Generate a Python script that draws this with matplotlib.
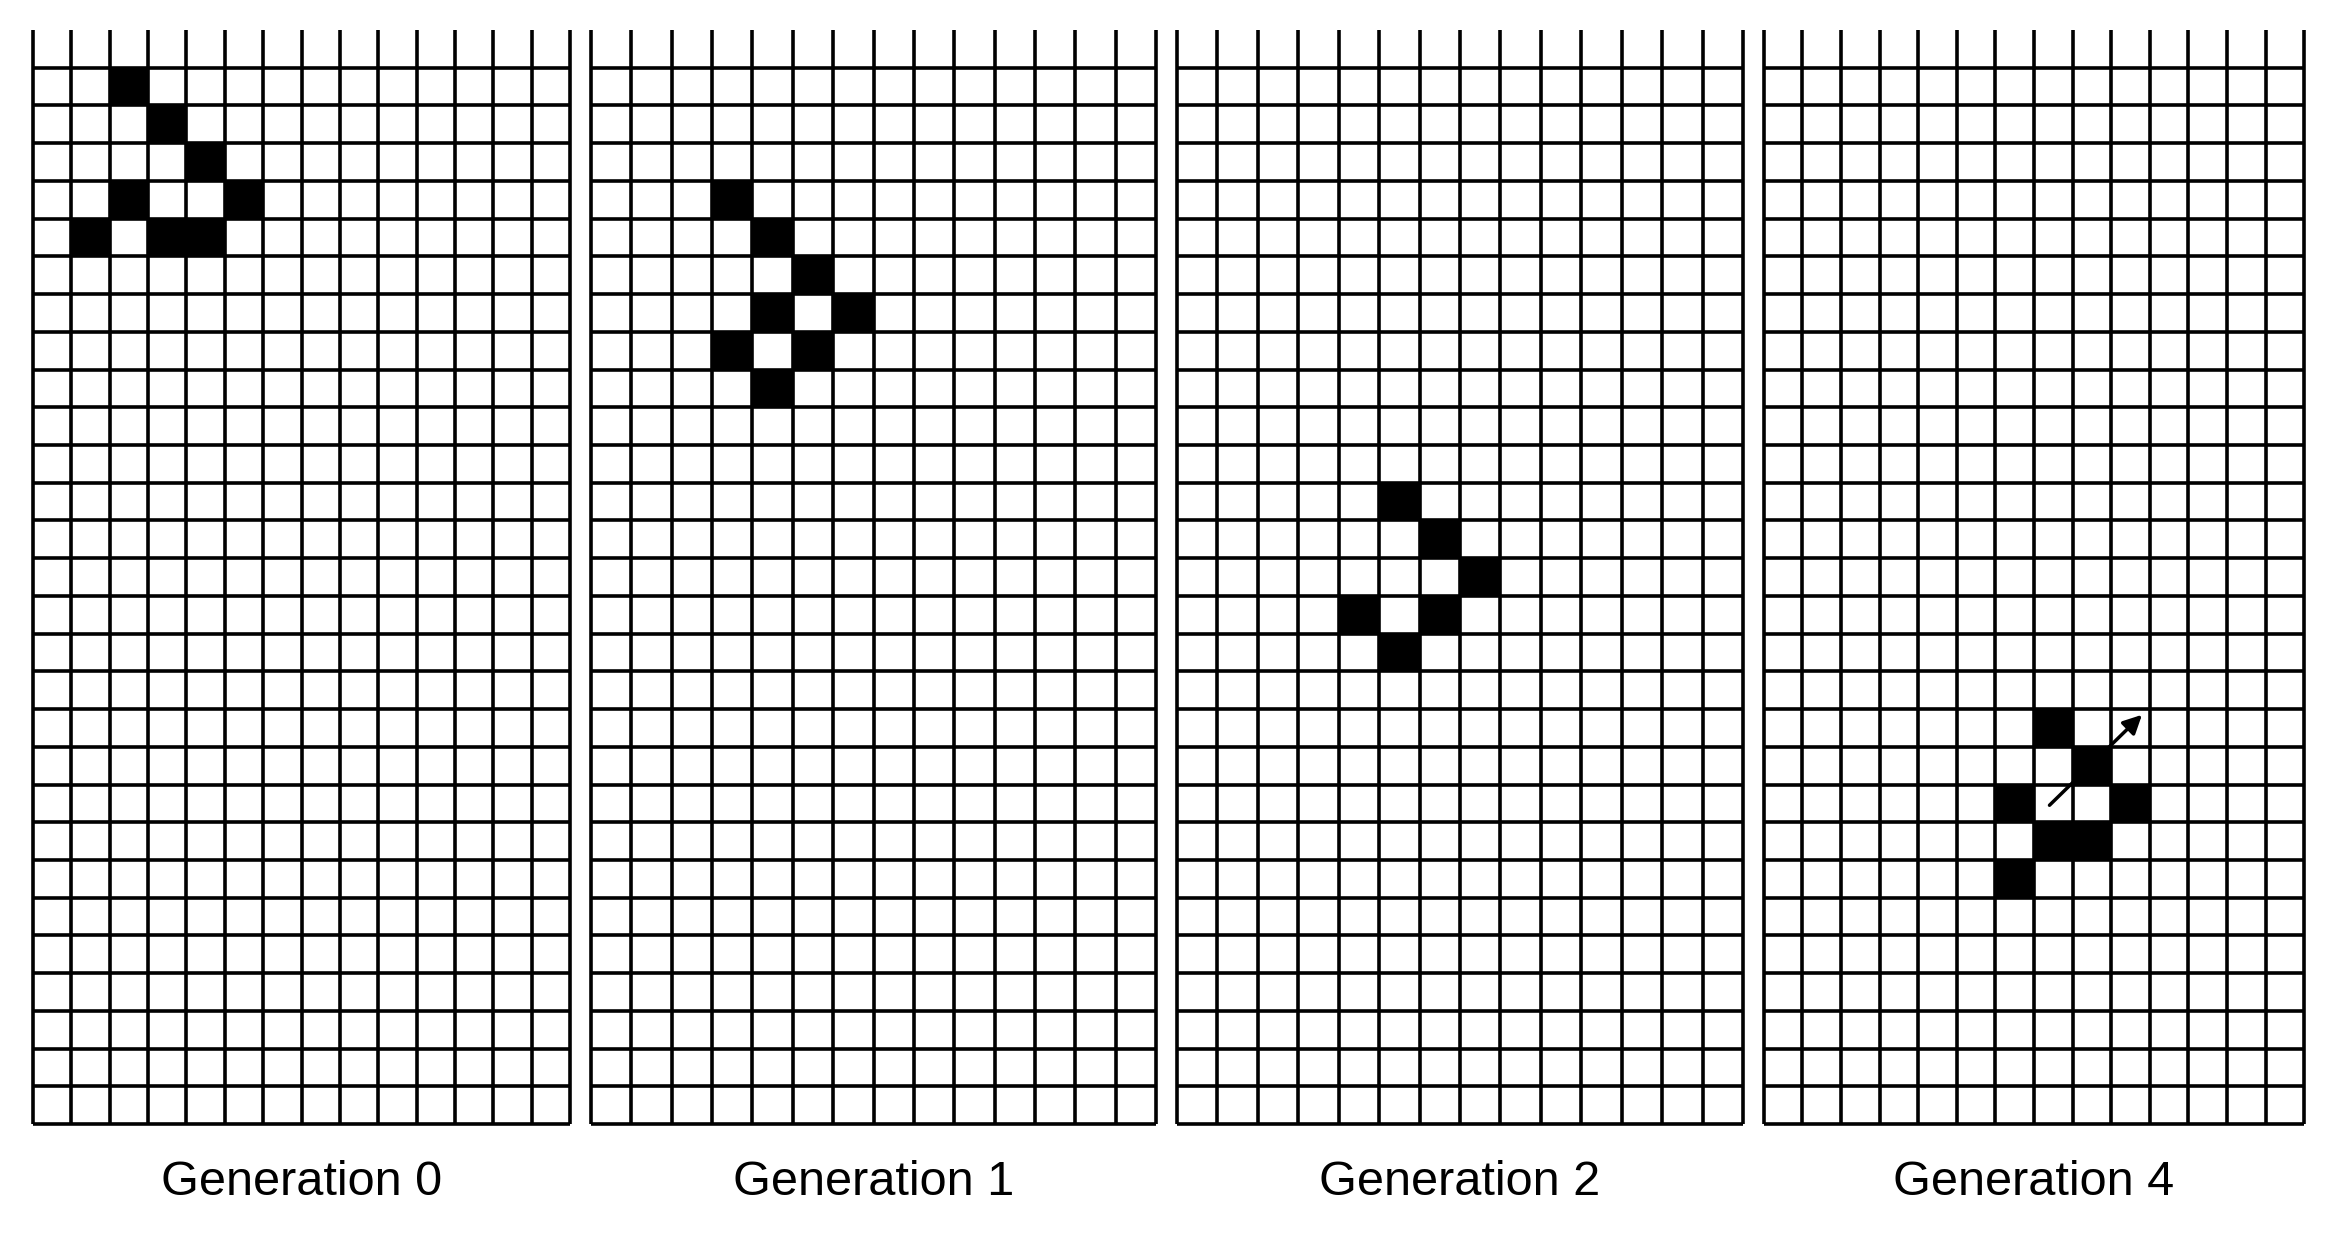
import matplotlib
matplotlib.use("Agg")
import matplotlib.pyplot as plt
import numpy as np

plt.rcParams["font.family"] = ["Liberation Sans", "DejaVu Sans"]

NCOLS, NROWS = 14, 29
TITLES = ["Generation 0", "Generation 1", "Generation 2", "Generation 4"]
# live cells as (row, col), row 0 = top
GEN0 = [(1, 2), (2, 3), (3, 4), (4, 2), (4, 5), (5, 1), (5, 3), (5, 4)]
GEN1 = [(4, 3), (5, 4), (6, 5), (7, 4), (7, 6), (8, 3), (8, 5), (9, 4)]
GEN2 = [(12, 5), (13, 6), (14, 7), (15, 4), (15, 6), (16, 5)]
GEN4 = [(18, 7), (19, 8), (20, 6), (20, 9), (21, 7), (21, 8), (22, 6)]
GENS = [GEN0, GEN1, GEN2, GEN4]
# direction arrow on the last panel (col, row)
ARROW_FROM = (7.35, 20.6)
ARROW_TO = (9.85, 18.1)

W, H = 2333, 1235
# panel extents in pixels (left, right); top/bottom shared
PANELS = [(29, 574), (587, 1160), (1173, 1747), (1760, 2308)]
TOP, BOTTOM = 30, 1126

fig = plt.figure(figsize=(W / 100, H / 100), dpi=100)
for i, ((x0, x1), cells, title) in enumerate(zip(PANELS, GENS, TITLES)):
    ax = fig.add_axes([x0 / W, 1 - BOTTOM / H, (x1 - x0) / W, (BOTTOM - TOP) / H])
    grid = np.zeros((NROWS, NCOLS))
    for r, c in cells:
        grid[r, c] = 1
    ax.pcolormesh(np.arange(NCOLS + 1), np.arange(NROWS + 1), grid,
                  cmap="binary", vmin=0, vmax=1)
    ax.vlines(np.arange(NCOLS + 1), 0, NROWS, color="black", lw=2.6)
    ax.hlines(np.arange(1, NROWS + 1), 0, NCOLS, color="black", lw=2.6)
    ax.set_xlim(-0.1, NCOLS + 0.1)
    ax.set_ylim(NROWS + 0.05, 0)
    ax.axis("off")
    ax.text(NCOLS / 2, NROWS + 1.55, title, ha="center", va="center",
            fontsize=35, clip_on=False)
    if i == 3:
        ax.annotate("", xy=ARROW_TO, xytext=ARROW_FROM,
                    arrowprops=dict(arrowstyle="-|>", color="black", lw=2.5,
                                    mutation_scale=28))

fig.savefig("out.png", dpi=100, facecolor="white")
